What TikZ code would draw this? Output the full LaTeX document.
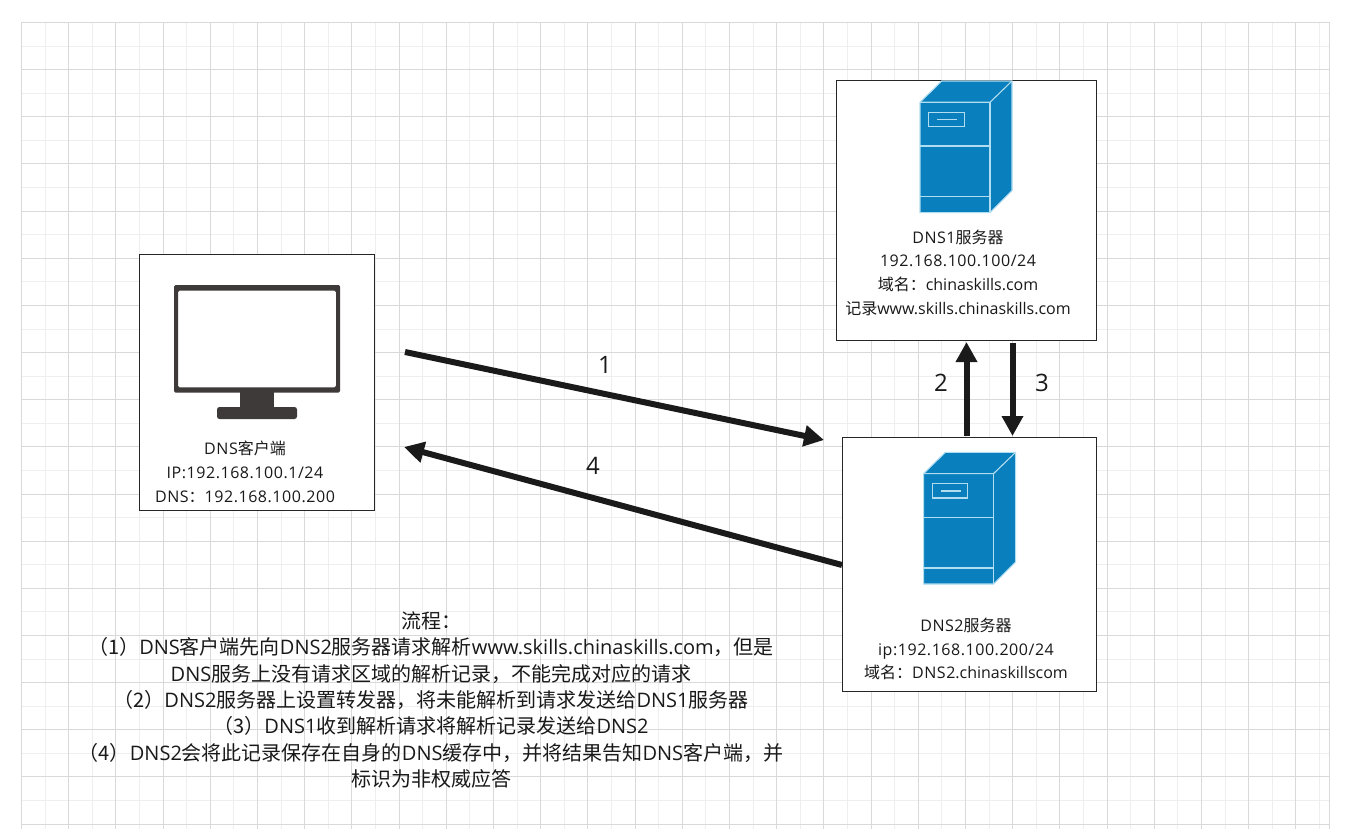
\documentclass[tikz,border=0pt]{standalone}
\usepackage{fontspec}
\setmainfont{Open Sans}
\newfontfamily\cjk{Noto Sans CJK SC}
\newfontfamily\widefont[LetterSpace=3.4]{Open Sans}
\newcommand{\zh}[1]{{\cjk #1}}
\newcommand{\wdt}[1]{{\widefont #1}}
\usetikzlibrary{arrows.meta}
\definecolor{gridmajor}{HTML}{D9D9D9}
\definecolor{gridminor}{HTML}{EEEEEE}
\definecolor{srvfill}{HTML}{0A7FBD}
\definecolor{srvline}{HTML}{B1DDF0}
\definecolor{monfill}{HTML}{3F3A3A}
\definecolor{arrowink}{HTML}{1A1A1A}
\tikzset{
  boxnode/.style={draw=black!85,fill=white,line width=0.9pt,inner sep=0pt,outer sep=0pt,anchor=north west},
  labelnode/.style={align=center,inner sep=0pt,text=black!90,font=\fontsize{16}{23.7}\selectfont},
  flownode/.style={align=center,inner sep=0pt,text=black!90,font=\fontsize{20}{26.4}\selectfont},
  numnode/.style={inner sep=0pt,text=black!90,font=\fontsize{24}{28}\selectfont},
  flowarrow/.style={draw=arrowink,line width=6pt,-{Triangle[length=20pt,width=20.5pt]}},
  srvstroke/.style={draw=srvline,line width=1.1pt,line join=miter},
}
\newcommand{\serverat}[2]{%
  \begin{scope}[shift={(#1,#2)}]
    \fill[srvfill] (920,102.3) -- (941.7,81) -- (1012,81) -- (1012,190.7) -- (990,212.7) -- (920,212.7) -- cycle;
    \draw[srvstroke] (920,212.7) -- (920,102.3) -- (941.7,81) -- (1012,81) -- (1012,190.7) -- (990,212.7) -- cycle;
    \draw[srvstroke] (920,102.3) -- (990,102.3) -- (1012,81);
    \draw[srvstroke] (990,102.3) -- (990,212.7);
    \draw[srvstroke] (920,146) -- (990,146);
    \draw[srvstroke] (920,196.7) -- (990,196.7);
    \draw[srvstroke] (928.7,112.3) rectangle (964.3,126.7);
    \draw[srvstroke] (937.3,119.7) -- (957,119.7);
  \end{scope}}
\begin{document}
\begin{tikzpicture}[x=1pt,y=-1pt]
\useasboundingbox (0,0) rectangle (1347,829);
\fill[white] (0,0) rectangle (1347,829);
% grid
\foreach \i in {0,...,27} {
  \draw[gridminor,line width=1pt] ({21.5+47.2*\i+23.6},22.5) -- ({21.5+47.2*\i+23.6},829);
}
\foreach \j in {0,...,16} {
  \draw[gridminor,line width=1pt] (21.5,{22.5+47.15*\j+23.6}) -- (1329.5,{22.5+47.15*\j+23.6});
}
\foreach \i in {0,...,27} {
  \draw[gridmajor,line width=1pt] ({21.5+47.2*\i},22.5) -- ({21.5+47.2*\i},829);
}
\foreach \j in {0,...,17} {
  \draw[gridmajor,line width=1pt] (21.5,{22.5+47.15*\j}) -- (1329.5,{22.5+47.15*\j});
}
\draw[gridmajor,line width=1pt] (1329.5,22.5) -- (1329.5,829);
% boxes
\node[boxnode,minimum width=235pt,minimum height=256pt] (client) at (139.5,254.5) {};
\node[boxnode,minimum width=260pt,minimum height=260pt] (dnsone) at (836.5,80.5) {};
\node[boxnode,minimum width=254pt,minimum height=254pt] (dnstwo) at (842.5,437.5) {};
% monitor
\fill[monfill,even odd rule,rounded corners=1.5pt] (174,285) rectangle (340,392.7) (178,290.7) rectangle (336,387.3);
\fill[monfill] (240,392) rectangle (274,408);
\fill[monfill,rounded corners=2.5pt] (217,407) rectangle (297,419);
% servers
\serverat{0}{0}
\serverat{3.6}{371.3}
% labels
\node[labelnode] (clientlabel) at (245,472) {\wdt{DNS}\zh{客户端}\\\wdt{IP:192.168.100.1/24}\\\wdt{DNS}\zh{：}\wdt{192.168.100.200}};
\node[labelnode] (dnsonelabel) at (958,272.5) {\wdt{DNS1}\zh{服务器}\\\wdt{192.168.100.100/24}\\\zh{域名：}chinaskills.com\\\zh{记录}www.skills.chinaskills.com};
\node[labelnode] (dnstwolabel) at (966,649) {\wdt{DNS2}\zh{服务器}\\\wdt{ip:192.168.100.200/24}\\\zh{域名：}\wdt{DNS2}.chinaskillscom};
\node[flownode] (flow) at (431,700) {\zh{流程：}\\\zh{（1）}DNS\zh{客户端先向}DNS2\zh{服务器请求解析}www.skills.chinaskills.com\zh{，但是}\\DNS\zh{服务上没有请求区域的解析记录，不能完成对应的请求}\\\zh{（2）}DNS2\zh{服务器上设置转发器，将未能解析到请求发送给}DNS1\zh{服务器}\\\zh{（3）}DNS1\zh{收到解析请求将解析记录发送给}DNS2\\\zh{（4）}DNS2\zh{会将此记录保存在自身的}DNS\zh{缓存中，并将结果告知}DNS\zh{客户端，并}\\\zh{标识为非权威应答}};
% free arrow ends
\coordinate (clientout) at (405,352);
\coordinate (dnstwoin) at (824,440);
\coordinate (dnstwoout) at (842,565);
\coordinate (clientin) at (404,447);
\coordinate (twoup) at (966.5,435.5);
\coordinate (oneinb) at (966.5,342);
\coordinate (oneout) at (1012.5,342.5);
\coordinate (twoinb) at (1012.5,436);
\draw[flowarrow] (clientout) -- (dnstwoin);
\draw[flowarrow] (dnstwoout) -- (clientin);
\draw[flowarrow] (twoup) -- (oneinb);
\draw[flowarrow] (oneout) -- (twoinb);
\node[numnode] (nb1) at (605,365) {1};
\node[numnode] (nb2) at (941,383) {2};
\node[numnode] (nb3) at (1042,383) {3};
\node[numnode] (nb4) at (593,466) {4};
\end{tikzpicture}
\end{document}
